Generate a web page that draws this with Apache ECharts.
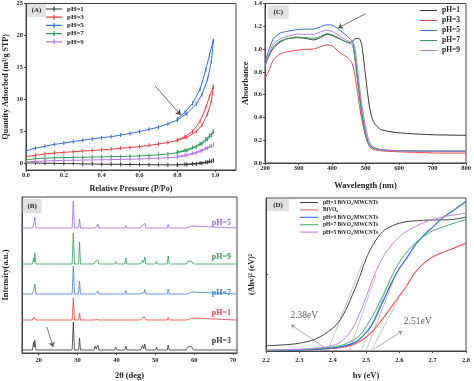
<!DOCTYPE html>
<html><head><meta charset="utf-8">
<script src="https://cdn.jsdelivr.net/npm/echarts@6/dist/echarts.min.js"></script>
<style>html,body{margin:0;padding:0;background:#fff}#c{width:474px;height:381px}</style>
</head><body><div id="c"></div>
<script>
// ---------- Panel A : N2 isotherms ----------
const adsP = [0.0,0.05,0.1,0.15,0.2,0.25,0.3,0.35,0.4,0.45,0.5,0.55,0.6,0.65,0.7,0.75,0.8,0.85,0.9,0.93,0.96,0.98,0.99];
const desP = [0.99,0.97,0.95,0.92,0.88,0.84,0.8];
const adsPH1 = [0.1,0.1,0.05,0.05,0,0,-0.05,-0.05,-0.1,-0.1,-0.12,-0.15,-0.15,-0.18,-0.18,-0.2,-0.2,-0.15,-0.05,0.05,0.2,0.35,0.5];
const desPH1 = [0.5,0.35,0.22,0.1,-0.02,-0.1,-0.15];
const adsPH3 = [1.1,1.3,1.5,1.65,1.75,1.85,1.95,2.05,2.15,2.25,2.4,2.5,2.65,2.85,3.05,3.3,3.6,4.1,5.0,6.0,7.8,9.8,12.0];
const desPH3 = [12.0,10.5,8.7,6.6,5.0,4.2,3.7];
const adsPH5 = [2.0,2.4,2.7,3.0,3.2,3.45,3.65,3.85,4.05,4.2,4.45,4.7,5.0,5.35,5.7,6.2,6.8,7.8,9.3,10.8,13.2,16.0,19.2];
const desPH5 = [19.2,17.0,14.6,11.6,9.4,8.0,7.0];
const adsPH7 = [0.6,0.75,0.85,0.9,0.95,0.97,1.0,1.02,1.05,1.08,1.1,1.15,1.2,1.28,1.38,1.5,1.7,2.0,2.6,3.1,3.8,4.4,5.0];
const desPH7 = [5.0,4.4,3.8,3.1,2.5,2.1,1.8];
const adsPH9 = [0.25,0.35,0.42,0.48,0.5,0.52,0.55,0.57,0.6,0.62,0.65,0.68,0.72,0.78,0.85,0.92,1.02,1.25,1.65,2.0,2.4,2.75,3.0];
const desPH9 = [3.0,2.7,2.4,2.0,1.6,1.3,1.1];
const ticksAx = [0,0.2,0.4,0.6,0.8,1.0];
const ticksAy = [0,5,10,15,20,25];
const arrowA = [[0.683,12.1],[0.818,7.6]];

// ---------- Panel C : UV-vis ----------
const wl = [200,210,225,245,265,295,320,345,365,385,400,415,430,445,455,462,468,475,482,488,494,500,506,512,520,530,545,565,600,650,700,750,800];
const absPH1 = [0.87,0.93,1.01,1.06,1.09,1.10,1.095,1.08,1.10,1.13,1.12,1.10,1.08,1.06,1.055,1.07,1.09,1.095,1.09,1.05,0.92,0.77,0.62,0.49,0.39,0.335,0.295,0.28,0.265,0.255,0.248,0.245,0.243];
const absPH3 = [0.74,0.80,0.905,0.957,0.975,0.99,0.997,1.0,1.02,1.036,1.03,0.99,0.955,0.93,0.90,0.86,0.78,0.64,0.5,0.4,0.31,0.24,0.18,0.145,0.125,0.115,0.108,0.103,0.098,0.093,0.088,0.087,0.087];
const absPH5 = [0.885,0.98,1.09,1.14,1.155,1.17,1.175,1.176,1.195,1.213,1.21,1.185,1.15,1.115,1.085,1.06,0.95,0.78,0.61,0.47,0.36,0.27,0.2,0.16,0.14,0.128,0.118,0.112,0.108,0.105,0.104,0.103,0.103];
const absPH7 = [0.84,0.93,1.02,1.07,1.09,1.105,1.10,1.095,1.11,1.135,1.125,1.105,1.08,1.06,1.05,1.03,0.92,0.75,0.58,0.45,0.34,0.26,0.19,0.155,0.135,0.125,0.115,0.11,0.107,0.105,0.104,0.104,0.104];
const absPH9 = [0.855,0.95,1.045,1.09,1.11,1.13,1.13,1.13,1.15,1.167,1.155,1.13,1.1,1.075,1.065,1.06,1.02,0.86,0.68,0.54,0.42,0.32,0.24,0.185,0.15,0.13,0.118,0.112,0.108,0.106,0.105,0.105,0.105];
const ticksCx = [200,300,400,500,600,700,800];
const ticksCy = [0,0.2,0.4,0.6,0.8,1.0,1.2,1.4];
const arrowC = [[500,1.31],[418,1.185]];

// ---------- Panel B : XRD ----------
const twoTheta = [15.7,18.4,18.7,18.85,19.0,19.3,24.0,24.2,24.4,28.6,28.9,29.2,30.25,30.5,30.75,32.5,32.7,32.9,34.25,34.5,34.8,35.2,35.45,39.5,39.8,40.1,42.15,42.4,42.65,45.75,46.0,46.3,46.7,47.0,47.3,47.55,50.05,50.3,50.55,53.05,53.3,53.55,57.95,58.3,58.7,59.3,59.8,71];
const xrdPH3 = [0,0,8,3,10,0, 0,2,0, 0,28,0, 0,12,0, 0,1.5,0, 0,4,1,5,0, 0,3,0, 0,4,0, 0,2,0.5,5,1,6,0, 0,3,0, 0,5,0, 0,3,1,3.5,0, 0];
const xrdPH1 = [0,0,3,1,4,0, 0,0,0, 0,22,0, 0,7,0, 0,0,0, 0,2,0.5,2.5,0, 0,2,0, 0,1,0, 0,1,0.3,2.5,1,3,0, 0,1,0, 0,2.5,0, 0,1.5,0.8,2,0, 0];
const xrdPH7 = [0,0,3.5,1.5,10,0, 0,0,0, 0,28,0, 0,13,0, 0,0.5,0, 0,2,0.5,3,0, 0,2,0, 0,3.5,0, 0,1,0.3,2,1,4.5,0, 0,1.5,0, 0,5,0, 0,1,0.8,2,0, 0];
const xrdPH9 = [0,0,6,2,11,0, 0,0,0, 0,31,0, 0,22,0, 0,0.5,0, 0,2.5,1,4,0, 0,2.5,0, 0,6,0, 0,2,0.5,4,1.5,7,0, 0,2.5,0, 0,8,0, 0,2.5,1,3,0, 0];
const xrdPH5 = [0,0,3,1,11,0, 0,0,0, 0,27,0, 0,9,0, 0,0,0, 0,2,0.5,4,0, 0,2,0, 0,2.5,0, 0,2,0.5,3,1,4.5,0, 0,1.5,0, 0,3.5,0, 0,1.5,0.8,2,0, 0];
const xrdOffsets = [3,33,59,89,125]; // pH=3, pH=1, pH=7, pH=9, pH=5
const xrdNames = ['pH=3','pH=1','pH=7','pH=9','pH=5'];
const ticksBx = [20,30,40,50,60,70];
const arrowB = [[22.1,26],[23.7,6]];

// ---------- Panel D : Tauc plots ----------
const eV = [2.2,2.25,2.3,2.35,2.4,2.43,2.46,2.48,2.5,2.52,2.55,2.58,2.6,2.62,2.65,2.68,2.7,2.73,2.75,2.8];
const taucPH3 = [0.034,0.04,0.051,0.08,0.15,0.23,0.37,0.48,0.6,0.69,0.78,0.82,0.835,0.845,0.851,0.855,0.856,0.857,0.858,0.875];
const taucBiVO4 = [0.005,0.005,0.007,0.01,0.017,0.025,0.04,0.06,0.09,0.13,0.21,0.3,0.36,0.42,0.52,0.585,0.615,0.645,0.66,0.705];
const taucPH9 = [0.003,0.004,0.006,0.01,0.02,0.03,0.05,0.075,0.12,0.18,0.32,0.46,0.54,0.6,0.7,0.77,0.81,0.87,0.9,0.977];
const taucPH7 = [0.004,0.006,0.009,0.015,0.027,0.04,0.07,0.1,0.16,0.23,0.36,0.5,0.58,0.64,0.71,0.76,0.785,0.81,0.825,0.86];
const taucPH5 = [0.005,0.008,0.012,0.02,0.035,0.07,0.15,0.24,0.35,0.47,0.61,0.7,0.745,0.78,0.815,0.845,0.86,0.875,0.885,0.9];
const tangentsD = [[[2.385,0],[2.49,0.58]],[[2.45,0],[2.53,0.5]],[[2.485,0],[2.57,0.45]],[[2.5,0],[2.58,0.45]],[[2.515,0],[2.6,0.35]]];
const calloutsD = [[[2.382,0.013],[2.275,0.172]],[[2.522,0.01],[2.609,0.13]]];
const calloutLabels = [{name:'2.38eV', value:[2.315,0.232]},{name:'2.51eV', value:[2.655,0.19]}];
const ticksDx = [2.2,2.3,2.4,2.5,2.6,2.7,2.8];
const ticksDy = [0.5];

const F = '"Liberation Serif","Times New Roman",serif';
const C = {k:'#333333', r:'#ee3e3e', b:'#2f6fd8', g:'#2f9e5c', p:'#b676e6'};

function xAx(gi, min, max, ticks, dec, name, gap, margin, nsize){
  return {gridIndex:gi, type:'value', min:min, max:max, splitLine:{show:false},
    axisLine:{onZero:false, lineStyle:{color:'#444', width:1}},
    axisTick:{customValues:ticks, length:2, lineStyle:{color:'#444'}},
    axisLabel:{customValues:ticks, formatter:v=>dec>=0?v.toFixed(dec):String(v), fontSize:6.5, fontWeight:'bold', fontFamily:F, color:'#222', margin:margin},
    name:name, nameLocation:'middle', nameGap:gap,
    nameTextStyle:{fontFamily:F, fontWeight:'bold', fontSize:nsize, color:'#222'}};
}
function yAx(gi, min, max, ticks, dec, name, gap, showLabel, nsize){
  return {gridIndex:gi, type:'value', min:min, max:max, splitLine:{show:false},
    axisLine:{onZero:false, lineStyle:{color:'#444', width:1}},
    axisTick:{show:ticks.length>0, customValues:ticks, length:2, inside: !showLabel, lineStyle:{color:'#444'}},
    axisLabel:{show:showLabel, customValues:ticks, formatter:v=>dec>=0?v.toFixed(dec):String(v), fontSize:6.5, fontWeight:'bold', fontFamily:F, color:'#222', margin:3},
    name:name, nameLocation:'middle', nameGap:gap, nameRotate:90,
    nameTextStyle:{fontFamily:F, fontWeight:'bold', fontSize:nsize, color:'#222'}};
}

function isoSeries(name, color, ads, des){
  const data = adsP.map((p,i)=>[p,ads[i]]).concat(desP.map((p,i)=>[p,des[i]]));
  return {type:'line', name:'A:'+name, xAxisIndex:0, yAxisIndex:0, data:data,
    symbol:'rect', symbolSize:[1,4], lineStyle:{color:color,width:1}, itemStyle:{color:color}};
}
function absSeries(name, color, vals){
  return {type:'line', name:'C:'+name, xAxisIndex:1, yAxisIndex:1, data:wl.map((w,i)=>[w,vals[i]]),
    symbol:'none', smooth:0.2, lineStyle:{color:color,width:1}, itemStyle:{color:color}};
}
const xrdVals = [xrdPH3, xrdPH1, xrdPH7, xrdPH9, xrdPH5];
const xrdColors = [C.k, C.r, '#3c7fd4', '#2e9e55', '#9d62e0'];
const xrdLabelY = [341, 312.7, 292.7, 256.7, 223.3];
function xrdSeries(i){
  return {type:'line', name:'B:'+xrdNames[i], xAxisIndex:2, yAxisIndex:2,
    data:twoTheta.map((t,j)=>[t, xrdOffsets[i]+xrdVals[i][j]]),
    symbol:'none', lineStyle:{color:xrdColors[i], width:0.8}, itemStyle:{color:xrdColors[i]}};
}
function taucSeries(name, color, vals, w){
  return {type:'line', name:'D:'+name, xAxisIndex:3, yAxisIndex:3, data:eV.map((e,i)=>[e,vals[i]]),
    symbol:'none', smooth:0.4, lineStyle:{color:color,width:w||1}, itemStyle:{color:color}};
}
function arrow(ax, coords, color){
  return {type:'lines', coordinateSystem:'cartesian2d', xAxisIndex:ax, yAxisIndex:ax, silent:true,
    data:[{coords:coords}], symbol:['none','arrow'], symbolSize:5, z:5,
    lineStyle:{color:color||'#555', width:0.8, opacity:1}};
}

const legendText = (fs, lh)=>({fontFamily:F, fontWeight:'bold', fontSize:fs, lineHeight:lh, color:'#222'});
const strip = n=>n.slice(2);
const lineIcon = 'path://M0,4.4H20V5.6H0Z';
const plusIcon = 'path://M0,4.4H16V5.6H0Z M7.4,2.5H8.6V7.5H7.4Z';

const graphic = [];
function panelLabel(txt, x, y, w, h){
  graphic.push({type:'rect', shape:{x:x,y:y,width:w,height:h}, style:{fill:'#e2e2e2'}, z:10});
  graphic.push({type:'text', x:x+w/2, y:y+h/2, z:11, style:{text:txt, font:'bold 7px '+F, fill:'#222', align:'center', verticalAlign:'middle', textAlign:'center', textVerticalAlign:'middle'}});
}
panelLabel('(A)', 27, 4, 19, 13);
panelLabel('(C)', 268, 5, 20.5, 14);
panelLabel('(B)', 22.7, 199, 19, 14);
panelLabel('(D)', 267, 199, 22, 12);
xrdNames.forEach((n,i)=>{
  graphic.push({type:'text', x:231, y:xrdLabelY[i], z:11, style:{text:n, font:'bold 8px '+F, fill:xrdColors[i], align:'right', verticalAlign:'middle', textAlign:'right', textVerticalAlign:'middle'}});
});

const option = {
  animation:false,
  backgroundColor:'#fff',
  grid:[
    {left:26, top:3, width:210, height:167, show:true, borderColor:'#444', borderWidth:1},
    {left:265, top:3, width:201, height:160, show:true, borderColor:'#444', borderWidth:1},
    {left:22, top:197, width:215, height:156, show:true, borderColor:'#444', borderWidth:1},
    {left:266, top:198, width:200, height:158, show:true, borderColor:'#444', borderWidth:1}
  ],
  xAxis:[
    xAx(0, 0, 1.11, ticksAx, 1, 'Relative Pressure (P/Po)', 15, 2, 8),
    xAx(1, 200, 800, ticksCx, -1, 'Wavelength (nm)', 18, 2, 8.5),
    xAx(2, 15.7, 71, ticksBx, -1, '2θ (deg)', 18, 4, 8.5),
    xAx(3, 2.2, 2.8, ticksDx, 1, 'hv (eV)', 20, 6, 8.5)
  ],
  yAxis:[
    yAx(0, -1, 25, ticksAy, -1, 'Quantity Adsorbed (m³/g STP)', 16, true, 8),
    yAx(1, 0, 1.4, ticksCy, 1, 'Absorbance', 13, true, 8.5),
    yAx(2, 0, 156, [], -1, 'Intensity(a.u.)', 12, false, 8.5),
    yAx(3, 0, 1, ticksDy, -1, '(Ahv)² (eV)²', 10, false, 8)
  ],
  legend:[
    {data:['A:pH=1','A:pH=3','A:pH=5','A:pH=7','A:pH=9'], icon:plusIcon, orient:'vertical', left:46, top:5.5, itemWidth:16, itemHeight:5, itemGap:1.2, padding:0, formatter:strip, textStyle:legendText(7,7)},
    {data:['C:pH=1','C:pH=3','C:pH=5','C:pH=7','C:pH=9'], icon:lineIcon, orient:'vertical', left:420, top:6.5, itemWidth:17, itemHeight:1.2, itemGap:2, padding:0, formatter:strip, textStyle:legendText(7.5,8)},
    {data:['D:pH=3 BiVO₄/MWCNTs','D:BiVO₄','D:pH=9 BiVO₄/MWCNTs','D:pH=7 BiVO₄/MWCNTs','D:pH=5 BiVO₄/MWCNTs'], icon:lineIcon, orient:'vertical', left:300, top:199.5, itemWidth:18, itemHeight:1.2, itemGap:1.4, padding:0, formatter:strip, textStyle:legendText(5.5,5.5)}
  ],
  graphic:graphic,
  series:[
    isoSeries('pH=1', C.k, adsPH1, desPH1),
    isoSeries('pH=3', C.r, adsPH3, desPH3),
    isoSeries('pH=5', C.b, adsPH5, desPH5),
    isoSeries('pH=7', C.g, adsPH7, desPH7),
    isoSeries('pH=9', C.p, adsPH9, desPH9),
    arrow(0, arrowA, '#444'),
    absSeries('pH=1', C.k, absPH1),
    absSeries('pH=3', C.r, absPH3),
    absSeries('pH=5', C.b, absPH5),
    absSeries('pH=7', C.g, absPH7),
    absSeries('pH=9', C.p, absPH9),
    arrow(1, arrowC, '#555'),
    xrdSeries(0), xrdSeries(1), xrdSeries(2), xrdSeries(3), xrdSeries(4),
    arrow(2, arrowB, '#555'),
    {type:'lines', coordinateSystem:'cartesian2d', xAxisIndex:3, yAxisIndex:3, silent:true, symbol:'none',
      data:tangentsD.map(c=>({coords:c})), lineStyle:{color:'#aaa', width:0.7, opacity:1}},
    taucSeries('pH=3 BiVO₄/MWCNTs', '#444', taucPH3),
    taucSeries('BiVO₄', '#f05a5a', taucBiVO4, 1.2),
    taucSeries('pH=9 BiVO₄/MWCNTs', '#2b6de0', taucPH9, 1.2),
    taucSeries('pH=7 BiVO₄/MWCNTs', '#3cb371', taucPH7),
    taucSeries('pH=5 BiVO₄/MWCNTs', '#c77ddf', taucPH5),
    {type:'lines', coordinateSystem:'cartesian2d', xAxisIndex:3, yAxisIndex:3, silent:true, symbol:['none','arrow'], symbolSize:4,
      data:calloutsD.map(c=>({coords:c})), lineStyle:{color:'#999', width:0.8, opacity:1}},
    {type:'scatter', xAxisIndex:3, yAxisIndex:3, silent:true, symbolSize:1, itemStyle:{color:'rgba(0,0,0,0)'}, z:6,
      data:calloutLabels, label:{show:true, position:'inside', formatter:p=>p.name, fontFamily:F, fontSize:9.5, color:'#333'}}
  ]
};
const chart = echarts.init(document.getElementById('c'), null, {renderer:'canvas'});
chart.setOption(option);
</script></body></html>
